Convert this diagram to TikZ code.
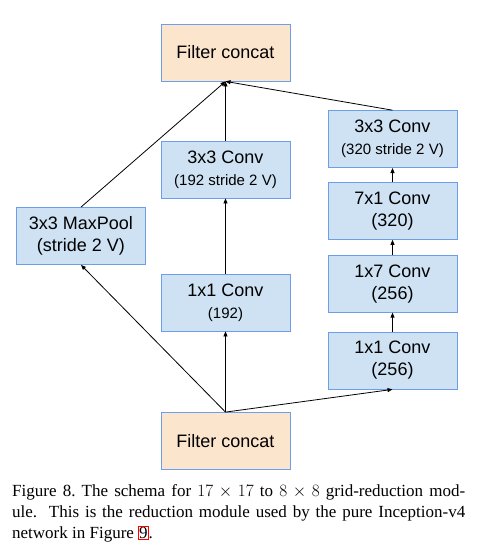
\documentclass[tikz,border=0pt]{standalone}
\usepackage{fontspec}
\setmainfont{Liberation Serif}
\setsansfont{Liberation Sans}
\usepackage{tikz}
\usetikzlibrary{positioning,arrows.meta}
\usepackage{xcolor}
\definecolor{boxline}{HTML}{6D9EEB}
\definecolor{convfill}{HTML}{CFE2F3}
\definecolor{catfill}{HTML}{FCE5CD}

\begin{document}
\begin{tikzpicture}[
  x=1pt, y=-1pt,
  font=\sffamily\fontsize{18}{22}\selectfont,
  layer/.style={draw=boxline, fill=convfill, line width=0.8pt, align=center,
                minimum width=129pt, minimum height=57pt, inner sep=2pt},
  concat/.style={layer, fill=catfill},
  arr/.style={-{Triangle[length=5pt, width=4pt]}, line width=0.8pt}
]
\useasboundingbox (0,0) rectangle (482,554);
% --- middle column -----------------------------------------------------
\node[concat] (out)  at (225.5,52.5)  {Filter concat};
\node[layer]  (conv3) at (225.5,169.5) {3x3 Conv\\ {\fontsize{15}{18}\selectfont (192 stride 2 V)}};
\node[layer]  (conv1) at (225.5,302.5) {1x1 Conv\\ {\fontsize{15}{18}\selectfont (192)}};
\node[concat] (in)   at (225.5,441)   {Filter concat};
% --- left branch -------------------------------------------------------
\node[layer]  (pool) at (81,236) {3x3 MaxPool\\ (stride 2 V)};
% --- right branch (bottom to top) --------------------------------------
\node[layer]  (rconv1) at (392.5,360.5) {1x1 Conv\\ (256)};
\node[layer, above=19pt of rconv1] (rconv17) {1x7 Conv\\ (256)};
\node[layer, above=15pt of rconv17] (rconv71) {7x1 Conv\\ (320)};
\node[layer, above=14pt of rconv71] (rconv3) {3x3 Conv\\ {\fontsize{15}{18}\selectfont (320 stride 2 V)}};
% --- arrows ------------------------------------------------------------
\draw[arr] (in.north) -- (pool.south);
\draw[arr] (in.north) -- (conv1.south);
\draw[arr] (in.north) -- (rconv1.south);
\draw[arr] (conv1) -- (conv3);
\draw[arr] (rconv1) -- (rconv17);
\draw[arr] (rconv17) -- (rconv71);
\draw[arr] (rconv71) -- (rconv3);
\draw[arr] (pool.north) -- (out.south);
\draw[arr] (conv3) -- (out);
\draw[arr] (rconv3.north) -- (out.south);
% --- caption -----------------------------------------------------------
\node[anchor=north west, text width=453pt, align=justify, inner sep=0pt,
      font=\rmfamily\fontsize{17}{21}\selectfont\frenchspacing] (caption) at (12,484)
  {Figure 8. The schema for $17\times17$ to $8\times8$ grid-reduction mod-\linebreak
   ule.\ \ This is the reduction module used by the pure Inception-v4\linebreak
   network in Figure {\setlength{\fboxsep}{0.5pt}\fcolorbox{red}{white}{9}}.};
\end{tikzpicture}
\end{document}
